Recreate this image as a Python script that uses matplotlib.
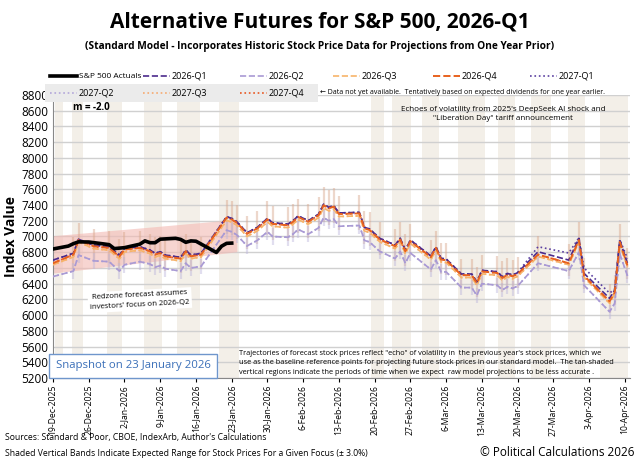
import matplotlib
matplotlib.use("Agg")
import matplotlib.pyplot as plt
from matplotlib.lines import Line2D
from matplotlib.patches import Rectangle
import numpy as np

# ---------------- data ----------------
act_days = [0, 3, 4, 5, 7, 10, 11, 12, 14, 17, 18, 19, 20, 21, 24, 25, 26, 27, 28, 32, 33, 34, 35]
actuals = [6841, 6878, 6909, 6932, 6930, 6905, 6896, 6846, 6858, 6902, 6944, 6921, 6921, 6966,
           6977, 6963, 6926, 6944, 6940, 6797, 6876, 6913, 6916]

days = [0, 4, 5, 8, 11, 13, 14, 17, 19, 20, 21, 22, 25, 26, 27, 29, 34, 35, 36, 38,
        40, 42, 43, 46, 47, 48, 50, 52, 53, 54, 55, 56, 60, 61, 62, 64, 67, 68, 69, 70,
        74, 75, 76, 77, 80, 82, 83, 84, 87, 88, 89, 90, 91, 95, 101, 103, 104, 109, 110, 111,
        112.5]
q1_26 = [6700, 6786, 6964, 6891, 6870, 6764, 6850, 6870, 6828, 6786, 6807, 6764, 6735, 6828, 6764, 6786, 7252, 7231, 7188, 7048,
         7116, 7231, 7175, 7158, 7200, 7262, 7202, 7284, 7410, 7372, 7392, 7300, 7307, 7116, 7096, 6977, 6891, 6977, 6828, 6955,
         6752, 6870, 6722, 6714, 6523, 6523, 6425, 6570, 6552, 6488, 6531, 6510, 6540, 6806, 6700, 6977, 6531, 6213, 6319, 6955,
         6659]
q4_26 = [6660, 6770, 6955, 6875, 6855, 6745, 6835, 6855, 6812, 6770, 6790, 6748, 6718, 6812, 6748, 6770, 7240, 7218, 7175, 7035,
         7102, 7218, 7160, 7143, 7186, 7248, 7188, 7270, 7398, 7358, 7380, 7286, 7294, 7102, 7082, 6962, 6876, 6962, 6812, 6940,
         6738, 6856, 6706, 6698, 6508, 6508, 6408, 6555, 6536, 6472, 6515, 6494, 6524, 6770, 6660, 6955, 6500, 6175, 6290, 6930,
         6630]
q3_26 = [6640, 6740, 6930, 6845, 6825, 6715, 6805, 6825, 6782, 6740, 6760, 6718, 6688, 6782, 6718, 6740, 7205, 7185, 7142, 7002,
         7070, 7185, 7130, 7112, 7155, 7215, 7157, 7238, 7362, 7326, 7346, 7254, 7262, 7070, 7050, 6932, 6846, 6932, 6782, 6910,
         6706, 6825, 6676, 6668, 6478, 6478, 6380, 6525, 6506, 6442, 6486, 6464, 6494, 6745, 6640, 6930, 6480, 6150, 6270, 6900,
         6610]
q2_26 = [6490, 6560, 6764, 6690, 6680, 6560, 6640, 6680, 6650, 6610, 6630, 6590, 6560, 6660, 6600, 6620, 7080, 7060, 7020, 6880,
         6950, 7060, 7000, 6990, 7030, 7090, 7030, 7110, 7240, 7200, 7220, 7130, 7140, 6950, 6930, 6810, 6720, 6810, 6660, 6790,
         6580, 6700, 6550, 6550, 6350, 6350, 6250, 6400, 6380, 6320, 6360, 6340, 6370, 6660, 6560, 6800, 6380, 6043, 6150, 6780,
         6500]
q1_27 = [6700, 6786, 6964, 6891, 6870, 6764, 6850, 6870, 6828, 6786, 6807, 6764, 6735, 6828, 6764, 6786, 7252, 7231, 7188, 7048,
         7116, 7231, 7175, 7158, 7200, 7262, 7202, 7284, 7410, 7372, 7392, 7300, 7307, 7116, 7096, 6977, 6891, 6977, 6828, 6955,
         6752, 6870, 6722, 6714, 6523, 6523, 6425, 6570, 6552, 6488, 6531, 6510, 6540, 6870, 6790, 6985, 6600, 6280, 6330, 6960,
         6720]

band_starts = [0.4, 3.7, 10.5, 17.9, 24.2, 32.6, 62.2, 66.3, 72.2, 79.4, 87.2, 93.7, 100.9, 107.1]
band_ends = [2.0, 5.9, 13.5, 21.3, 28.7, 36.5, 64.8, 70.2, 75.5, 84.7, 90.5, 97.6, 104.2, 112.6]

red_days = [0, 36]
red_low = [6535, 6806]
red_high = [7010, 7218]

tick_days = list(range(0, 113, 7))
tick_labels = ["19-Dec-2025", "26-Dec-2025", "2-Jan-2026", "9-Jan-2026", "16-Jan-2026", "23-Jan-2026",
               "30-Jan-2026", "6-Feb-2026", "13-Feb-2026", "20-Feb-2026", "27-Feb-2026", "6-Mar-2026",
               "13-Mar-2026", "20-Mar-2026", "27-Mar-2026", "3-Apr-2026", "10-Apr-2026"]

# ---------------- figure ----------------
plt.rcParams['font.family'] = ['Open Sans', 'DejaVu Sans']
fig = plt.figure(figsize=(6.4, 4.65), dpi=100)
ax = fig.add_axes([53/640, 1-378/465, 577/640, 283/465])

for s, e in zip(band_starts, band_ends):
    ax.axvspan(s, e, color='#e9e1d2', alpha=0.5, lw=0, zorder=0)
ax.fill_between(red_days, red_low, red_high, color='#f3b9b3', alpha=0.6, lw=0, zorder=1)

ax.set_ylim(5200, 8800)
ax.set_xlim(0, 113)
ax.set_yticks(range(5200, 8801, 200))
ax.grid(axis='y', color='#d0d0d0', lw=1, zorder=0.5)
ax.set_axisbelow(True)

q1a = np.array(q1_26); q2a = np.array(q2_26)
ax.vlines(days, q1a*0.97, q1a*1.03, color='#d9a78c', alpha=0.45, lw=1.6, zorder=2)
ax.vlines(days, q2a*0.985, q2a*1.015, color='#bdb6dc', alpha=0.45, lw=1.6, zorder=2)

c = dict(q1='#4b2a8c', q2='#a99ad4', q3='#f7b46a', q4='#e8621e',
         p1='#5a3fa0', p2='#b2a6da', p3='#f6aa70', p4='#e85520')
ax.plot(days, q2_26, c=c['p2'], ls=':', lw=1.2, zorder=3)
ax.plot(days, q3_26, c=c['p3'], ls=':', lw=1.2, zorder=3)
ax.plot(days, q4_26, c=c['p4'], ls=':', lw=1.2, zorder=3)
ax.plot(days, q1_27, c=c['p1'], ls=':', lw=1.2, zorder=3)
ax.plot(days, q2_26, c=c['q2'], ls='--', lw=1.2, zorder=4)
ax.plot(days, q3_26, c=c['q3'], ls='--', lw=1.2, zorder=4)
ax.plot(days, q1_26, c=c['q1'], ls='--', lw=1.2, zorder=5)
ax.plot(days, q4_26, c=c['q4'], ls='--', lw=1.4, zorder=5)
ax.plot(act_days, actuals, c='black', lw=2.6, zorder=6)

ax.set_xticks(tick_days)
ax.set_xticklabels(tick_labels, rotation=90, fontsize=6.2)
ax.tick_params(axis='y', labelsize=8.5, length=0)
ax.tick_params(axis='x', length=3, pad=2)
for sp in ['top', 'right']:
    ax.spines[sp].set_visible(False)
ax.spines['left'].set_color('#888888')
ax.spines['bottom'].set_color('#888888')
ax.set_ylabel('Index Value', fontsize=10, fontweight='bold', labelpad=2)

ax.text(0.035, 0.975, 'm = -2.0', transform=ax.transAxes, fontsize=7, fontweight='bold', va='top')
ax.text(0.78, 0.96, 'Echoes of volatility from 2025\'s DeepSeek AI shock and\n"Liberation Day" tariff announcement',
        transform=ax.transAxes, fontsize=5.8, ha='center', va='top', linespacing=1.3)
ax.text(17, 6190, "Redzone forecast assumes\ninvestors' focus on 2026-Q2", fontsize=5.6, ha='center', va='center',
        rotation=3, linespacing=1.5, bbox=dict(facecolor='white', edgecolor='none', pad=1.5), zorder=7)
ax.text(36.5, 5560, 'Trajectories of forecast stock prices reflect "echo" of volatility in  the previous year\'s stock prices, which we\n'
        'use as the baseline reference points for projecting future stock prices in our standard model.  The tan-shaded\n'
        'vertical regions indicate the periods of time when we expect  raw model projections to be less accurate .',
        fontsize=5.3, ha='left', va='top', linespacing=1.55, zorder=7)
ax.text(0.5, 5355, 'Snapshot on 23 January 2026', fontsize=8.2, color='#3a6fb8', va='center', ha='left',
        bbox=dict(facecolor='white', edgecolor='#6f96cc', boxstyle='square,pad=0.55', lw=1), zorder=8)

# titles
fig.text(0.5, 1-22/465, 'Alternative Futures for S&P 500, 2026-Q1', fontsize=15, fontweight='bold', ha='center', va='center')
fig.text(0.5, 1-47/465, '(Standard Model - Incorporates Historic Stock Price Data for Projections from One Year Prior)',
         fontsize=7.3, fontweight='bold', ha='center', va='center')

# legend (manual)
fig.patches.append(Rectangle((45/640, 1-102/465), 273/640, 18/465, transform=fig.transFigure,
                             facecolor='#ebebeb', edgecolor='none', zorder=0))
entries = [
    (50, 76, 'S&P 500 Actuals', 'black', '-', 2.6),
    (143, 76, '2026-Q1', c['q1'], '--', 1.2),
    (240, 76, '2026-Q2', c['q2'], '--', 1.2),
    (333, 76, '2026-Q3', c['q3'], '--', 1.2),
    (433, 76, '2026-Q4', c['q4'], '--', 1.4),
    (530, 76, '2027-Q1', c['p1'], ':', 1.2),
    (50, 93, '2027-Q2', c['p2'], ':', 1.2),
    (143, 93, '2027-Q3', c['p3'], ':', 1.2),
    (240, 93, '2027-Q4', c['p4'], ':', 1.2),
]
for x0, y0, lab, col, ls, lw in entries:
    yf = 1 - y0/465
    fig.add_artist(Line2D([x0/640, (x0+27)/640], [yf, yf], color=col, ls=ls, lw=lw, transform=fig.transFigure))
    fig.text((x0+29)/640, yf, lab, fontsize=6.5 if lab != 'S&P 500 Actuals' else 6.0, va='center', ha='left')
fig.text(320/640, 1-93/465, '\u2190 Data not yet available.  Tentatively based on expected dividends for one year earlier.',
         fontsize=5, va='center', ha='left')

fig.text(5/640, 1-437/465, "Sources: Standard & Poor, CBOE, IndexArb, Author's Calculations", fontsize=6.2, va='center')
fig.text(5/640, 1-453/465, 'Shaded Vertical Bands Indicate Expected Range for Stock Prices For a Given Focus (\u00b1 3.0%)',
         fontsize=6.2, va='center')
fig.text(635/640, 1-452/465, '\u00a9 Political Calculations 2026', fontsize=8.5, va='center', ha='right')

fig.savefig('out.png', dpi=100)
